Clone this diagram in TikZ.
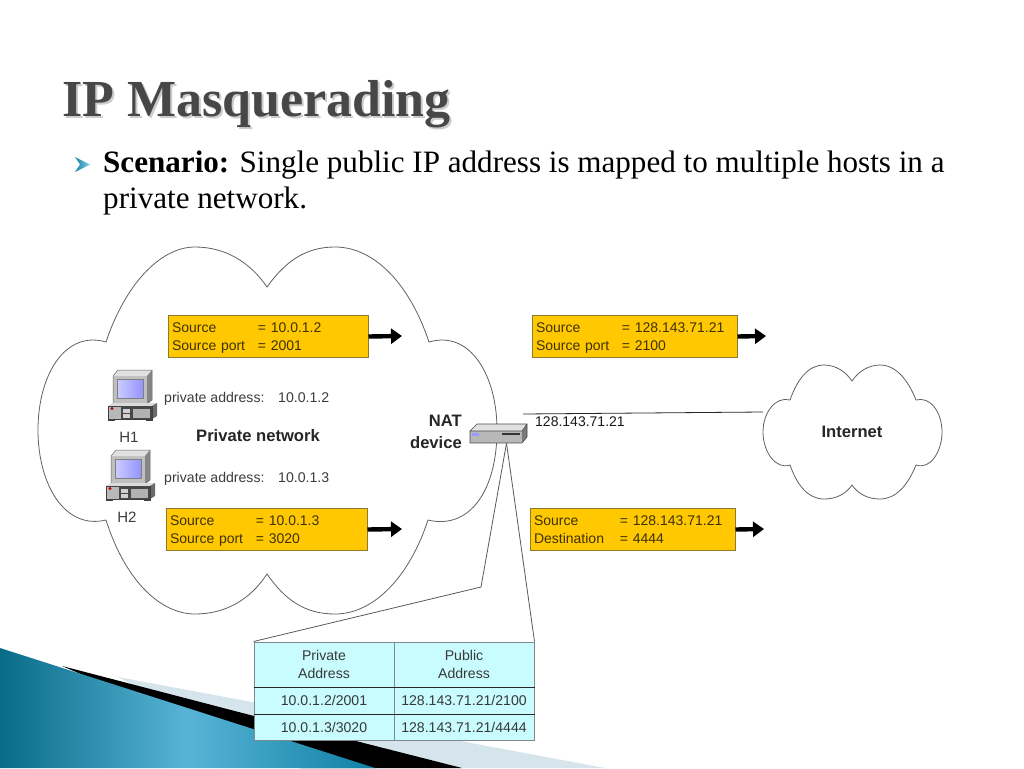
\documentclass[tikz,border=0pt]{standalone}
\usepackage{fontspec}
\setmainfont{Liberation Serif}
\newfontfamily\arialf{Liberation Sans}
\usetikzlibrary{arrows.meta}
\definecolor{boxfill}{HTML}{FFC800}
\definecolor{boxedge}{HTML}{8C7A2E}
\definecolor{boxtext}{HTML}{3E3206}
\definecolor{cellfill}{HTML}{C8FCFF}
\definecolor{gridgray}{HTML}{7F8A8C}
\definecolor{inktext}{HTML}{3C3C3C}
\newcommand{\boxrow}[2]{\rule{0pt}{12.5pt}\makebox[86pt][l]{#1}#2}
\tikzset{
  x=1pt,y=-1pt,
  cloudline/.style={draw=black!62,line width=0.8pt,fill=white},
  infobox/.style={draw=boxedge,line width=1pt,fill=boxfill,text=boxtext,minimum height=41pt,inner sep=4pt,align=left,font=\arialf\fontsize{14}{18}\selectfont},
  flow/.style={line width=4.4pt,-{Triangle[length=11pt,width=15pt]},black},
  plainlabel/.style={text=inktext,inner sep=0pt,font=\arialf\fontsize{14.1}{17}\selectfont},
  boldlabel/.style={text=black!85,inner sep=0pt,font=\arialf\bfseries\fontsize{16.6}{22}\selectfont},
  cell/.style={draw=gridgray,line width=1pt,fill=cellfill,text=black!78,inner sep=0pt,minimum width=140pt,align=center,font=\arialf\fontsize{14.1}{18}\selectfont},
  wire/.style={draw=black!65,line width=0.8pt},
  computer/.pic={
    \fill[black!25] (113,376) rectangle (147,404);
    \fill[black!12] (113,376) -- (118,370) -- (152,370) -- (147,376) -- cycle;
    \fill[black!48] (147,376) -- (152,370) -- (152,400) -- (147,404) -- cycle;
    \draw[black!60,line width=0.5pt] (113,376) -- (118,370) -- (152,370) -- (152,400) -- (147,404) -- (113,404) -- cycle;
    \shade[left color=blue!20!white,right color=blue!42!white] (117,379) rectangle (143,398);
    \draw[black!50,line width=0.6pt] (117,379) rectangle (143,398);
    \fill[black!14] (108,406) -- (113,403) -- (157,403) -- (152,406) -- cycle;
    \fill[black!28] (108,406) rectangle (152,419);
    \fill[black!58] (152,406) -- (157,403) -- (157,416) -- (152,419) -- cycle;
    \draw[black!75,line width=0.6pt] (108,406) rectangle (152,419);
    \fill[black!72] (121,406) rectangle (152,419);
    \fill[black!18] (123,409) rectangle (130,412.5);
    \fill[black!18] (123,414) rectangle (130,417.5);
    \fill[black!30] (133,409) rectangle (150,417.5);
    \fill[red!75!black] (112,408.5) circle (1.7);
    \fill[black!75] (108,419) rectangle (115,421);
    \fill[black!75] (146,419) rectangle (153,421);
  },
}
\begin{document}
\begin{tikzpicture}
\useasboundingbox (0,0) rectangle (1024,768);
\fill[white] (0,0) rectangle (1024,768);

% slide decoration
\fill[fill={rgb,255:red,214;green,229;blue,236}] (118,677) -- (605,768) -- (300,768) -- cycle;
\fill[black] (62,666) -- (254,716) -- (352,740) -- (462,768) -- (300,768) -- cycle;
\shade[left color={rgb,255:red,8;green,108;blue,136},right color={rgb,255:red,16;green,128;blue,164},middle color={rgb,255:red,88;green,180;blue,214}] (0,648) -- (375,768) -- (0,768) -- cycle;

% title and bullet text
\node[anchor=base west,inner sep=0pt,text=black!20,font=\bfseries\fontsize{52}{60}\selectfont] at (64,118) {IP Masquerading};
\node[anchor=base west,inner sep=0pt,text=black!72,font=\bfseries\fontsize{52}{60}\selectfont] (title) at (62,116) {IP Masquerading};
\shade[left color={rgb,255:red,20;green,130;blue,160},right color={rgb,255:red,130;green,210;blue,230}] (75,157) -- (90,164.5) -- (75,172) -- (80,164.5) -- cycle;
\node[anchor=base west,inner sep=0pt,font=\fontsize{31.1}{36}\selectfont] (line1) at (103,172.5) {\textbf{Scenario:} Single public IP address is mapped to multiple hosts in a};
\node[anchor=base west,inner sep=0pt,font=\fontsize{31.1}{36}\selectfont] (line2) at (103,208.5) {private network.};

% clouds
\path[cloudline] (106,342) .. controls (125,285) and (160,247) .. (195,247)
  .. controls (225,247) and (250,262) .. (267,287)
  .. controls (285,262) and (305,247) .. (335,247)
  .. controls (375,247) and (410,285) .. (429,342)
  .. controls (470,330) and (497,375) .. (497,430)
  .. controls (497,490) and (470,530) .. (428,520)
  .. controls (410,575) and (375,614) .. (335,614)
  .. controls (305,614) and (285,600) .. (267,574)
  .. controls (250,600) and (225,614) .. (195,614)
  .. controls (160,614) and (125,580) .. (106,520)
  .. controls (65,530) and (38,485) .. (38,430)
  .. controls (38,375) and (65,330) .. (106,342) -- cycle;
\path[cloudline] (790,400) .. controls (797,380) and (808,365) .. (824,365)
  .. controls (836,365) and (846,372) .. (852,381)
  .. controls (858,372) and (868,365) .. (880,365)
  .. controls (896,365) and (908,380) .. (916,400)
  .. controls (930,396) and (942,412) .. (942,432)
  .. controls (942,452) and (930,470) .. (916,465)
  .. controls (908,485) and (896,499) .. (880,499)
  .. controls (868,499) and (858,494) .. (852,485)
  .. controls (846,494) and (836,499) .. (824,499)
  .. controls (808,499) and (797,485) .. (790,465)
  .. controls (776,470) and (763,452) .. (763,432)
  .. controls (763,412) and (776,396) .. (790,400) -- cycle;

% info boxes
\node[infobox,minimum width=200pt,text width=192pt] (b1) at (268,336.5) {\boxrow{Source}{= 10.0.1.2}\\\boxrow{Source port\vphantom{p}}{= 2001}};
\node[infobox,minimum width=201pt,text width=193pt] (b2) at (266.5,529.5) {\boxrow{Source}{= 10.0.1.3}\\\boxrow{Source port\vphantom{p}}{= 3020}};
\node[infobox,minimum width=205pt,text width=197pt] (b3) at (634.5,336.5) {\boxrow{Source}{= 128.143.71.21}\\\boxrow{Source port\vphantom{p}}{= 2100}};
\node[infobox,minimum width=205pt,text width=197pt] (b4) at (632.5,529.5) {\boxrow{Source}{= 128.143.71.21}\\\boxrow{Destination\vphantom{p}}{= 4444}};
\coordinate (f1) at (402,336);
\coordinate (f2) at (402,529);
\coordinate (f3) at (766,336);
\coordinate (f4) at (764,529);
\draw[flow] (b1.east) -- (f1);
\draw[flow] (b2.east) -- (f2);
\draw[flow] (b3.east) -- (f3);
\draw[flow] (b4.east) -- (f4);

% hosts
\pic at (0,0) {computer};
\pic at (-2,80) {computer};
\node[plainlabel,anchor=base west] (a1) at (164,402) {private address:};
\node[plainlabel,anchor=base west] (v1) at (278,402) {10.0.1.2};
\node[plainlabel,anchor=base west] (a2) at (164,482) {private address:};
\node[plainlabel,anchor=base west] (v2) at (278,482) {10.0.1.3};
\node[plainlabel,font=\arialf\fontsize{15}{17}\selectfont] (h1) at (129,437) {H1};
\node[plainlabel,font=\arialf\fontsize{15}{17}\selectfont] (h2) at (127,517) {H2};
\node[boldlabel] (pn) at (258,436) {Private network};
\node[boldlabel,align=right,anchor=east] (natl) at (462,432) {NAT\\device};
\node[boldlabel] (inet) at (852,432) {Internet};
\node[inner sep=0pt,anchor=west,text=black!90,font=\arialf\fontsize{14}{17}\selectfont] (pub) at (535,422) {128.143.71.21};

% table
\node[cell,minimum height=45pt] (t11) at (324,664.5) {Private\\Address};
\node[cell,minimum height=45pt] (t12) at (464,664.5) {Public\\Address};
\node[cell,minimum height=27pt] (t21) at (324,700.5) {10.0.1.2/2001};
\node[cell,minimum height=27pt] (t22) at (464,700.5) {128.143.71.21/2100};
\node[cell,minimum height=26pt] (t31) at (324,727) {10.0.1.3/3020};
\node[cell,minimum height=26pt] (t32) at (464,727) {128.143.71.21/4444};
\draw[black!85,line width=0.9pt] (t11.south west) -- (t12.south east);
\draw[black!85,line width=0.9pt] (t21.south west) -- (t22.south east);

% NAT device
\node[minimum width=57pt,minimum height=19pt,inner sep=0pt] (nat) at (498.5,433.5) {};
\fill[black!12] (470,431) -- (477,424) -- (527,424) -- (522,431) -- cycle;
\fill[black!28] (470,431) rectangle (522,443);
\fill[black!52] (522,431) -- (527,424) -- (527,437) -- (522,443) -- cycle;
\draw[black!70,line width=0.6pt] (470,431) -- (477,424) -- (527,424) -- (527,437) -- (522,443) -- (470,443) -- cycle (470,431) -- (522,431) -- (527,424);
\fill[blue!40!white] (472,433) rectangle (479,436);
\fill[black!80] (502,433) rectangle (520,435);

% connectors
\coordinate (wireL) at (523,414);
\coordinate (inetL) at (763,412);
\coordinate (bend) at (481,587);
\draw[wire,black!85] (wireL) -- (inetL);
\draw[wire] (nat.south) ++(8,0) coordinate (natfoot) -- (bend) -- (t11.north west);
\draw[wire] (natfoot) -- (t12.north east);
\end{tikzpicture}
\end{document}
